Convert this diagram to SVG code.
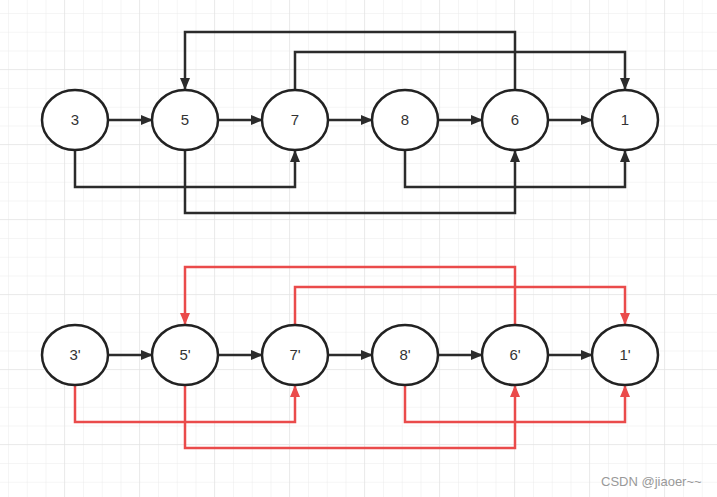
<svg xmlns="http://www.w3.org/2000/svg" width="717" height="497" viewBox="0 0 717 497">
<defs>
<pattern id="g" x="8" y="13" width="18.75" height="18.75" patternUnits="userSpaceOnUse"><path d="M0 0V18.75M0 0H18.75" stroke="#ececec" stroke-width="1" fill="none"/></pattern>
<pattern id="G" x="64" y="69" width="75" height="75" patternUnits="userSpaceOnUse"><path d="M0 0V75M0 0H75" stroke="#e0e0e0" stroke-width="1" fill="none"/></pattern>
<marker id="ak" markerWidth="12" markerHeight="10" refX="11" refY="5" orient="auto" markerUnits="userSpaceOnUse"><path d="M0 0L12 5L0 10Z" fill="#2b2b2b"/></marker>
<marker id="ar" markerWidth="12" markerHeight="10" refX="11" refY="5" orient="auto" markerUnits="userSpaceOnUse"><path d="M0 0L12 5L0 10Z" fill="#ea4b4b"/></marker>
</defs>
<style>
.n ellipse{fill:#fff;stroke:#222;stroke-width:2.5}
.n text{font-family:"Liberation Sans",Arial,sans-serif;font-size:15px;fill:#333;text-anchor:middle}
.k{fill:none;stroke:#2b2b2b;stroke-width:2.5;marker-end:url(#ak)}
.r{fill:none;stroke:#ea4b4b;stroke-width:2.5;marker-end:url(#ar)}
</style>
<rect width="717" height="497" fill="#fff"/>
<rect width="717" height="497" fill="url(#g)"/>
<rect width="717" height="497" fill="url(#G)"/>
<g id="connectors">
<path class="k" d="M108 120H152"/><path class="k" d="M218 120H262"/><path class="k" d="M328 120H372"/><path class="k" d="M438 120H482"/><path class="k" d="M548 120H592"/>
<path class="k" d="M515 90V32H185V89"/>
<path class="k" d="M295 90V52H625V89"/>
<path class="k" d="M75 150V187H295V151"/>
<path class="k" d="M185 150V213H515V151"/>
<path class="k" d="M405 150V187H625V151"/>
<path class="k" d="M108 355H152"/><path class="k" d="M218 355H262"/><path class="k" d="M328 355H372"/><path class="k" d="M438 355H482"/><path class="k" d="M548 355H592"/>
<path class="r" d="M515 325V267H185V324"/>
<path class="r" d="M295 325V287H625V324"/>
<path class="r" d="M75 385V422H295V386"/>
<path class="r" d="M185 385V448H515V386"/>
<path class="r" d="M405 385V422H625V386"/>
</g>
<g id="n3" class="n"><ellipse cx="75" cy="120" rx="33" ry="30"/><text x="75" y="125">3</text></g>
<g id="n5" class="n"><ellipse cx="185" cy="120" rx="33" ry="30"/><text x="185" y="125">5</text></g>
<g id="n7" class="n"><ellipse cx="295" cy="120" rx="33" ry="30"/><text x="295" y="125">7</text></g>
<g id="n8" class="n"><ellipse cx="405" cy="120" rx="33" ry="30"/><text x="405" y="125">8</text></g>
<g id="n6" class="n"><ellipse cx="515" cy="120" rx="33" ry="30"/><text x="515" y="125">6</text></g>
<g id="n1" class="n"><ellipse cx="625" cy="120" rx="33" ry="30"/><text x="625" y="125">1</text></g>
<g id="n3p" class="n"><ellipse cx="75" cy="355" rx="33" ry="30"/><text x="75" y="360">3'</text></g>
<g id="n5p" class="n"><ellipse cx="185" cy="355" rx="33" ry="30"/><text x="185" y="360">5'</text></g>
<g id="n7p" class="n"><ellipse cx="295" cy="355" rx="33" ry="30"/><text x="295" y="360">7'</text></g>
<g id="n8p" class="n"><ellipse cx="405" cy="355" rx="33" ry="30"/><text x="405" y="360">8'</text></g>
<g id="n6p" class="n"><ellipse cx="515" cy="355" rx="33" ry="30"/><text x="515" y="360">6'</text></g>
<g id="n1p" class="n"><ellipse cx="625" cy="355" rx="33" ry="30"/><text x="625" y="360">1'</text></g>
<text x="601" y="486" font-family="Liberation Sans,Arial,sans-serif" font-size="13" fill="#999">CSDN @jiaoer~~</text>
</svg>
